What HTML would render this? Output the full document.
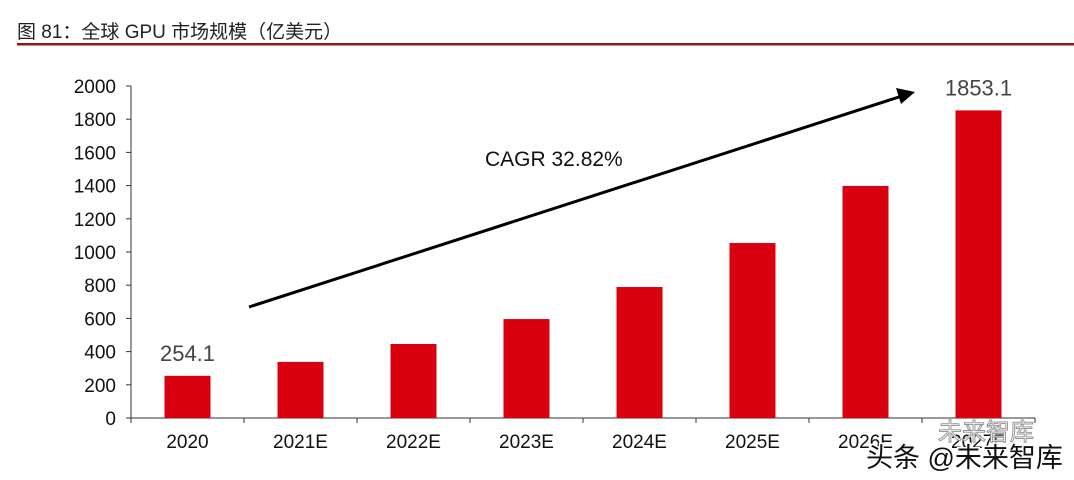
<!DOCTYPE html>
<html><head><meta charset="utf-8"><style>
html,body{margin:0;padding:0;background:#fff;width:1074px;height:480px;overflow:hidden}
svg{display:block;font-family:"Liberation Sans","Noto Sans CJK SC",sans-serif}
</style></head><body>
<svg id="c" width="1074" height="480">
<text x="17" y="38" font-size="19" fill="#222">图 81：全球 GPU 市场规模（亿美元）</text>
<rect x="17" y="43" width="1057" height="2.5" fill="#8b1a1a"></rect>
<g id="plot"></g>
</svg>
<script>
const categories=["2020","2021E","2022E","2023E","2024E","2025E","2026E","2027E"];
const values=[254.1,338,446,596,789,1054,1398,1853.1];
const yTicks=[0,200,400,600,800,1000,1200,1400,1600,1800,2000];
const labeled=[0,7];
const NS="http://www.w3.org/2000/svg";
const g=document.getElementById('plot');
const x0=131,step=113,y0=418,yMax=2000,yTop=86,bw=46;
const y=v=>y0-(v/yMax)*(y0-yTop);
const xc=i=>x0+step*(i+0.5);
function mk(t,a,txt){const e=document.createElementNS(NS,t);for(const k in a)e.setAttribute(k,a[k]);if(txt!=null)e.textContent=txt;g.appendChild(e);return e;}
let e=mk('line',{x1:x0,y1:yTop,x2:x0,y2:y0,stroke:'#333','stroke-width':1});

yTicks.forEach(t=>{
 let l=mk('line',{x1:x0-5,y1:y(t),x2:x0,y2:y(t),stroke:'#333'});
 
 let tx=mk('text',{x:x0-15,y:y(t)+7,'text-anchor':'end','font-size':19,fill:'#111'},t);
 
});
const xEnd=x0+step*categories.length;
e=mk('line',{x1:x0,y1:y0,x2:xEnd,y2:y0,stroke:'#333'});

for(let i=0;i<=categories.length;i++){
 let l=mk('line',{x1:x0+step*i,y1:y0,x2:x0+step*i,y2:y0+5,stroke:'#333'});
 
}
categories.forEach((c,i)=>{
 let b=mk('rect',{x:xc(i)-bw/2,y:y(values[i]),width:bw,height:y0-y(values[i]),fill:'#d9000f'});
 
 let t=mk('text',{x:xc(i),y:448,'text-anchor':'middle','font-size':19,fill:'#111'},c);
 
});
labeled.forEach(i=>{
 let t=mk('text',{x:xc(i),y:y(values[i])-15,'text-anchor':'middle','font-size':22,fill:'#444'},values[i].toFixed(1));
 
});
e=mk('line',{x1:249,y1:307,x2:902,y2:96,stroke:'#000','stroke-width':3});

e=mk('polygon',{points:'915,92 896,88 901,104',fill:'#000'});

e=mk('text',{x:485,y:166,'font-size':21,fill:'#111'},'CAGR 32.82%');

e=mk('text',{x:938,y:440,'font-size':24,fill:'#fff',stroke:'#999','stroke-width':1},'未来智库');

e=mk('text',{x:866,y:467,'font-size':27,fill:'#111',stroke:'#fff','stroke-width':3,'paint-order':'stroke'},'头条 @未来智库');

</script>
</body></html>
